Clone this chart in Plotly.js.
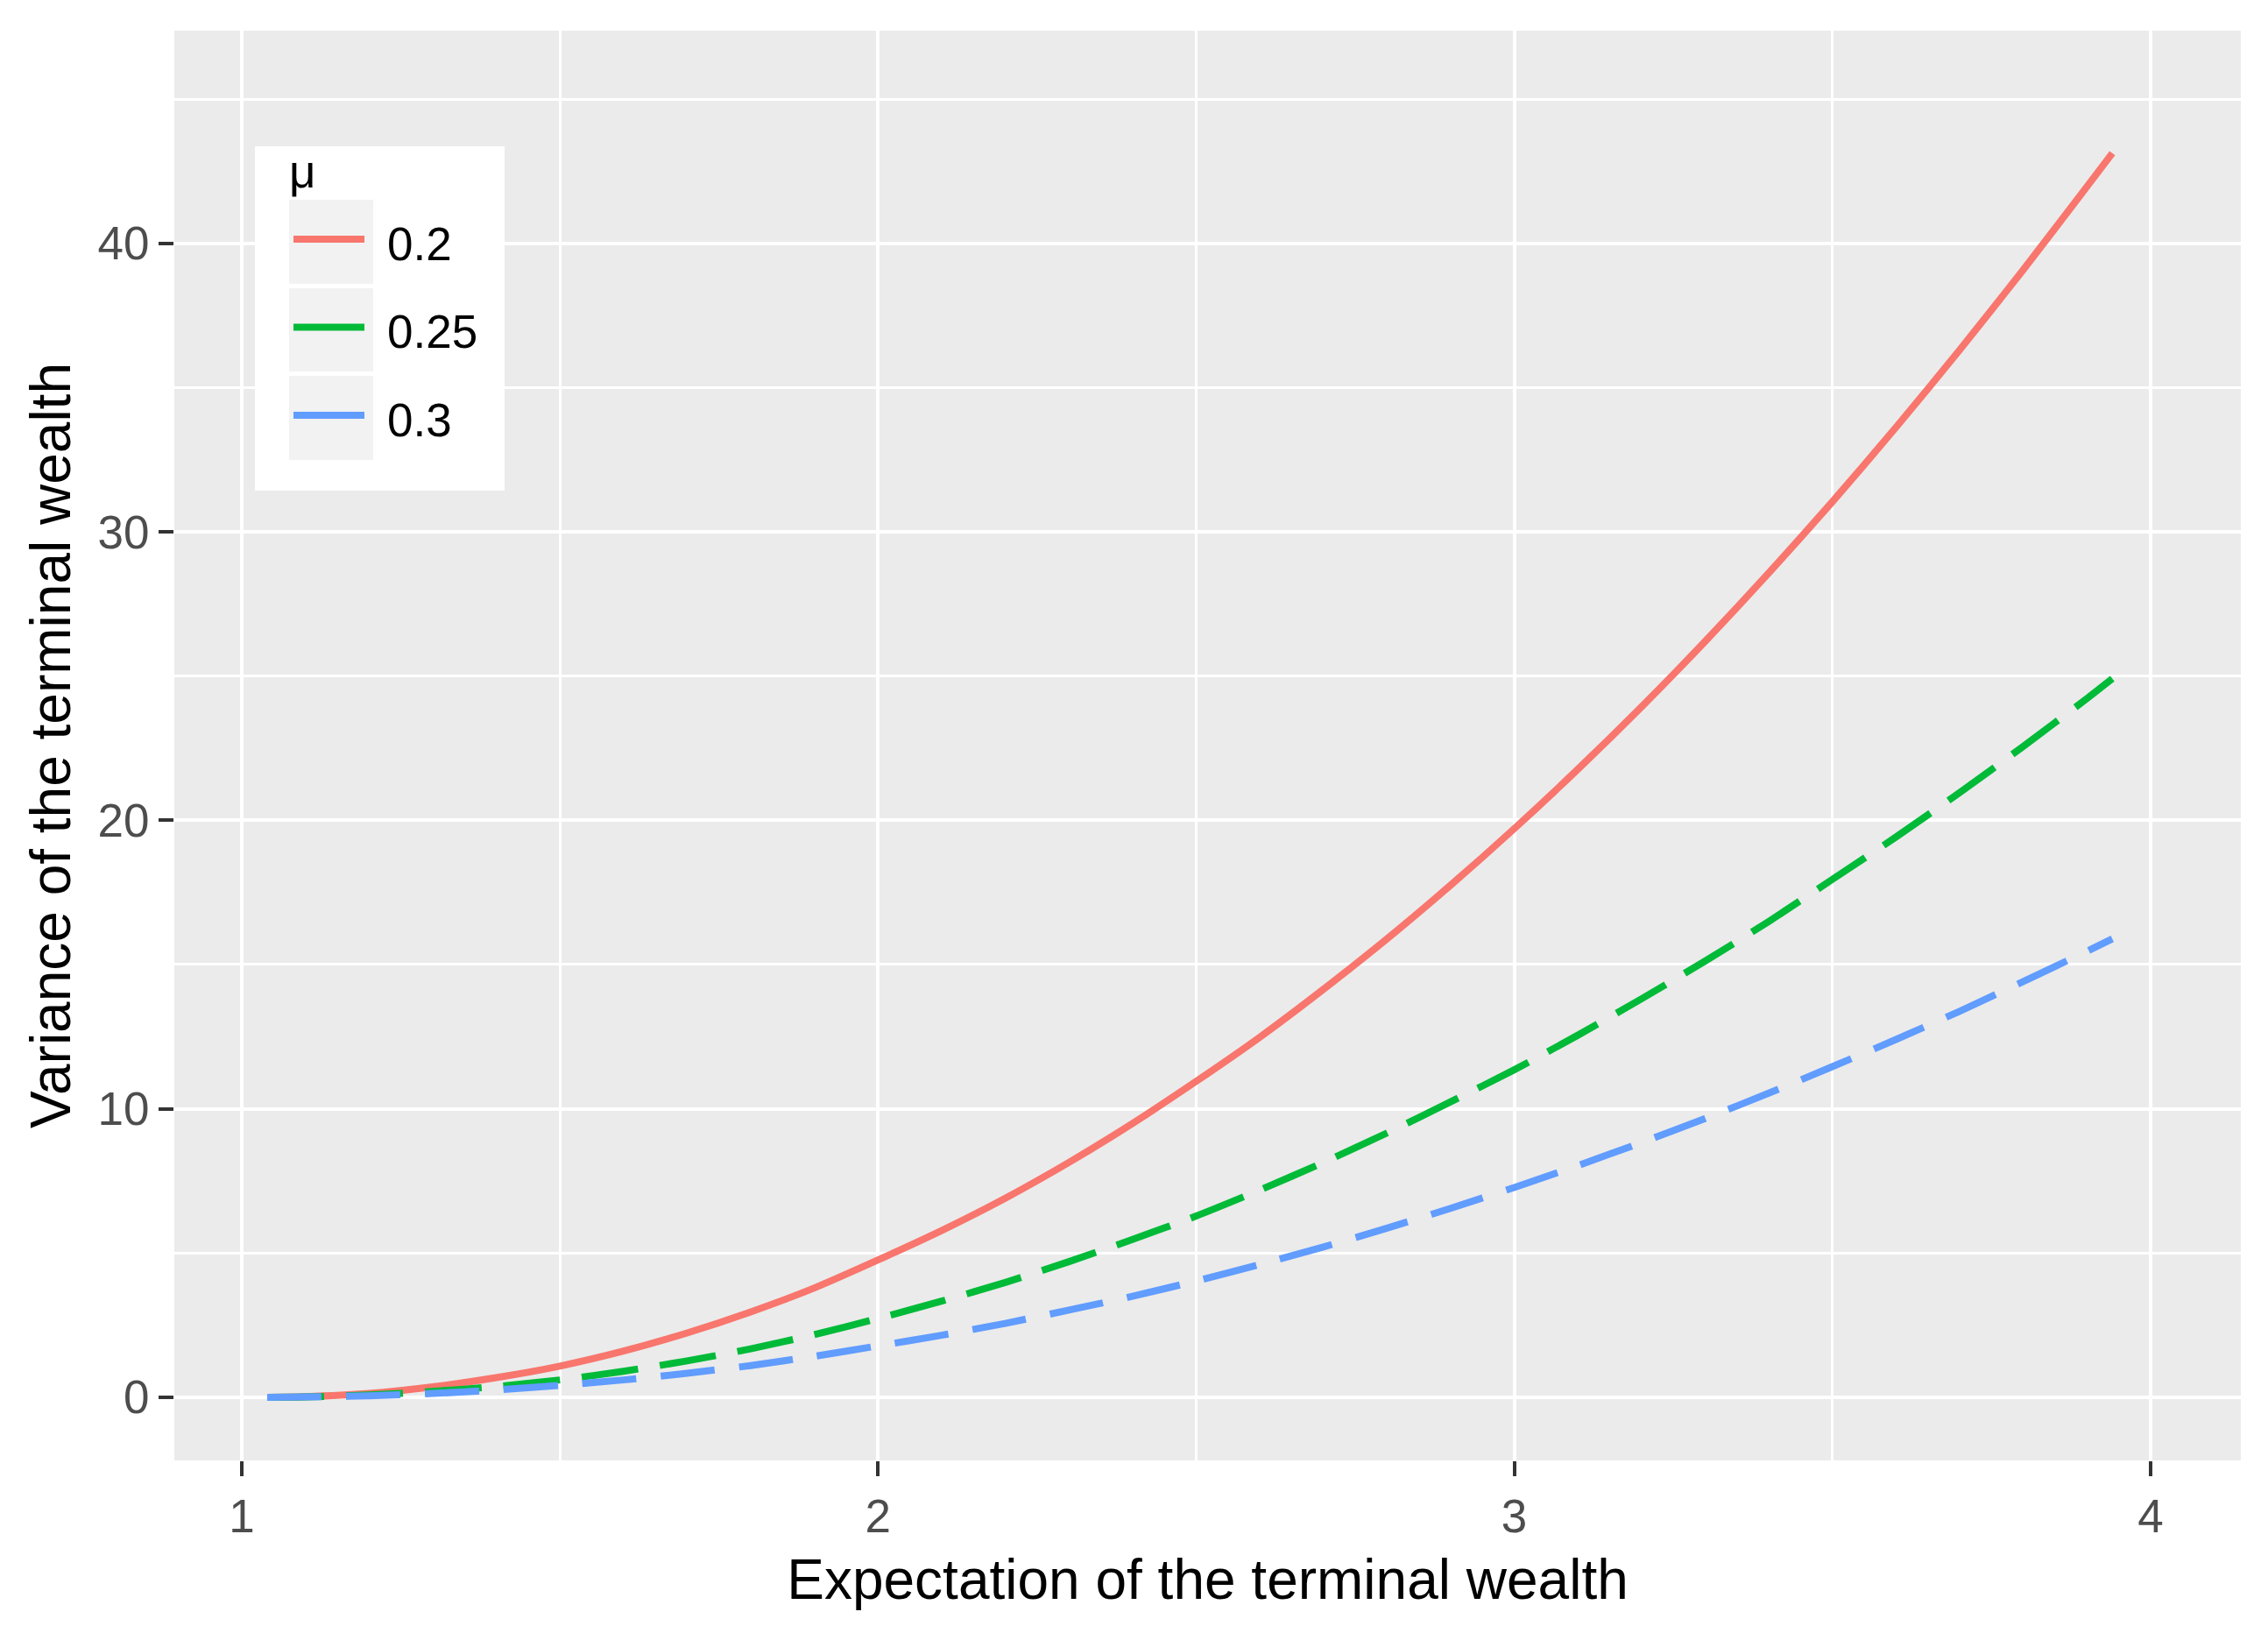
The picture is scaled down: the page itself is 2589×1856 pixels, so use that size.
<!DOCTYPE html>
<html>
<head>
<meta charset="utf-8">
<script src="https://cdn.plot.ly/plotly-3.0.1.min.js"></script>
<style>
  html, body { margin: 0; padding: 0; background: #ffffff; }
  #chart { width: 2589px; height: 1856px; }
</style>
</head>
<body>
<div id="chart"></div>
<script>
// ---- Data ----
const expectation = [1.04, 1.1, 1.2, 1.3, 1.4, 1.5, 1.6, 1.7, 1.8, 1.9, 2.0,
  2.1, 2.2, 2.3, 2.4, 2.5, 2.6, 2.7, 2.8, 2.9, 3.0,
  3.1, 3.2, 3.3, 3.4, 3.5, 3.6, 3.7, 3.8, 3.9, 3.94];

const varianceMu020 = [0, 0.02, 0.13, 0.36, 0.68, 1.08, 1.60, 2.23, 2.96, 3.79, 4.76,
  5.78, 6.90, 8.14, 9.49, 10.95, 12.48, 14.14, 15.89, 17.75, 19.71,
  21.77, 23.93, 26.20, 28.57, 31.04, 33.62, 36.30, 39.08, 41.96, 43.12];

const varianceMu025 = [0, 0.01, 0.08, 0.20, 0.37, 0.60, 0.90, 1.26, 1.68, 2.17, 2.73,
  3.33, 3.98, 4.70, 5.47, 6.28, 7.18, 8.14, 9.16, 10.24, 11.35,
  12.55, 13.81, 15.12, 16.49, 17.95, 19.42, 20.96, 22.56, 24.22, 24.91];

const varianceMu030 = [0, 0.01, 0.05, 0.13, 0.25, 0.41, 0.60, 0.83, 1.10, 1.42, 1.78,
  2.15, 2.56, 3.02, 3.50, 4.03, 4.60, 5.21, 5.86, 6.55, 7.27,
  8.03, 8.83, 9.66, 10.54, 11.46, 12.40, 13.38, 14.41, 15.46, 15.89];

const muLabels = ['0.2', '0.25', '0.3'];
const legendTitle = 'μ';
const xTicks = [1, 2, 3, 4];
const yTicks = [0, 10, 20, 30, 40];
const xTitle = 'Expectation of the terminal wealth';
const yTitle = 'Variance of the terminal wealth';

// ---- Styles ----
const colors = ['#F8766D', '#00BA38', '#619CFF'];
const dashes = ['solid', '65px,25px', '62px,28px'];
const FONT = '"Liberation Sans", Arial, Helvetica, sans-serif';

// plot area in page pixels
const L = 199, R = 2558, T = 35, B = 1667;
const W = R - L, H = B - T;
const xp = p => (p - L) / W;
const yp = p => (B - p) / H;

const series = [varianceMu020, varianceMu025, varianceMu030];
const traces = series.map((ys, i) => ({
  type: 'scatter',
  mode: 'lines',
  x: expectation,
  y: ys,
  name: muLabels[i],
  showlegend: false,
  line: { color: colors[i], width: 8, dash: dashes[i], shape: 'spline', smoothing: 0.6 },
  hoverinfo: 'x+y+name'
}));

// ---- Legend drawn as box + keys + text ----
const shapes = [];
const annotations = [];
shapes.push({ type: 'rect', xref: 'paper', yref: 'paper', layer: 'above',
  x0: xp(291), x1: xp(576), y0: yp(560), y1: yp(167),
  fillcolor: '#ffffff', line: { width: 0 } });
const keyRows = [[228, 324], [329, 424], [429, 525]];
keyRows.forEach((r, i) => {
  shapes.push({ type: 'rect', xref: 'paper', yref: 'paper', layer: 'above',
    x0: xp(330), x1: xp(426), y0: yp(r[1]), y1: yp(r[0]),
    fillcolor: '#F2F2F2', line: { width: 0 } });
  const cy = (r[0] + r[1]) / 2 - 3;
  shapes.push({ type: 'line', xref: 'paper', yref: 'paper', layer: 'above',
    x0: xp(335), x1: xp(416), y0: yp(cy), y1: yp(cy),
    line: { color: colors[i], width: 8 } });
  annotations.push({ xref: 'paper', yref: 'paper', x: xp(440), y: yp(cy + 5),
    xanchor: 'left', yanchor: 'middle', showarrow: false, text: muLabels[i],
    font: { family: FONT, size: 53, color: '#000000' } });
});
annotations.push({ xref: 'paper', yref: 'paper', x: xp(328), y: yp(196),
  xanchor: 'left', yanchor: 'middle', showarrow: false, text: legendTitle,
  font: { family: FONT, size: 53, color: '#000000' } });

const layout = {
  width: 2589, height: 1856,
  paper_bgcolor: '#ffffff',
  plot_bgcolor: '#EBEBEB',
  margin: { l: L, r: 2589 - R, t: T, b: 1856 - B, pad: 0 },
  showlegend: false,
  xaxis: {
    range: [0.894, 4.142],
    tickvals: xTicks, ticktext: xTicks.map(String),
    ticks: 'outside', ticklen: 17, tickwidth: 4, tickcolor: '#333333',
    tickfont: { family: FONT, size: 53, color: '#4D4D4D' },
    showgrid: true, gridcolor: '#ffffff', gridwidth: 4,
    minor: { dtick: 0.5, tick0: 0.5, showgrid: true, gridcolor: '#ffffff', gridwidth: 3, ticks: '' },
    zeroline: false, showline: false, automargin: false,
    title: { text: xTitle, standoff: 21, font: { family: FONT, size: 64, color: '#000000' } }
  },
  yaxis: {
    range: [-2.19, 47.37],
    tickvals: yTicks, ticktext: yTicks.map(String),
    ticks: 'outside', ticklen: 17, tickwidth: 4, tickcolor: '#333333',
    tickfont: { family: FONT, size: 53, color: '#4D4D4D' },
    showgrid: true, gridcolor: '#ffffff', gridwidth: 4,
    minor: { dtick: 5, tick0: 5, showgrid: true, gridcolor: '#ffffff', gridwidth: 3, ticks: '' },
    zeroline: false, showline: false, automargin: false,
    title: { text: yTitle, standoff: 10, font: { family: FONT, size: 64, color: '#000000' } }
  },
  shapes: shapes,
  annotations: annotations
};

Plotly.newPlot('chart', traces, layout, { displayModeBar: false, staticPlot: true });
</script>
</body>
</html>
